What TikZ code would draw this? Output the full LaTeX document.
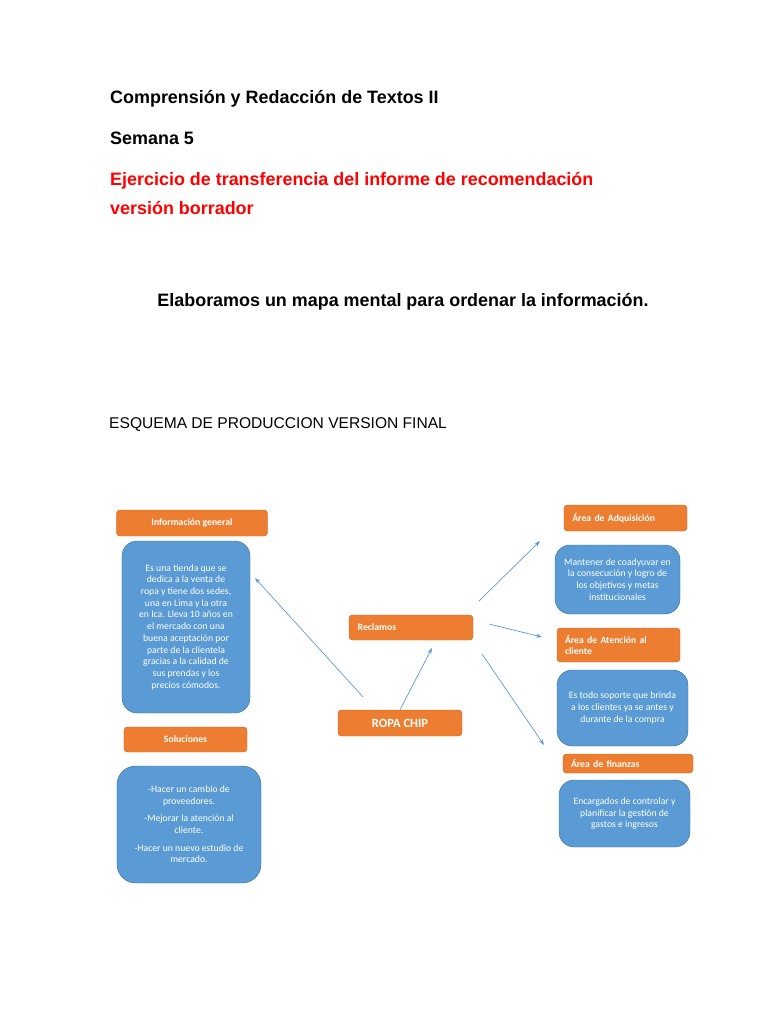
\documentclass[tikz,border=0pt]{standalone}
\usepackage{fontspec}
\setmainfont{Liberation Sans}
\newfontfamily\boxfont{Carlito}
\usepackage{tikz}
\usetikzlibrary{arrows.meta}
\definecolor{boxorange}{HTML}{ED7D31}
\definecolor{lineorange}{HTML}{C9651F}
\definecolor{boxblue}{HTML}{5B9BD5}
\definecolor{lineblue}{HTML}{41719C}
\definecolor{wordred}{HTML}{FF0000}
\tikzstyle{heading}=[anchor=base west, inner sep=0pt, font=\bfseries\fontsize{15.3}{18}\selectfont]
\tikzstyle{topic}=[draw=lineorange, fill=boxorange, rounded corners=3pt, text=white,
                   inner sep=0pt, font=\boxfont\bfseries\fontsize{8.3}{9.8}\selectfont]
\tikzstyle{topic-left}=[topic, align=left]
\tikzstyle{detail}=[draw=lineblue, fill=boxblue, rounded corners=13pt, text=white,
                    inner sep=0pt, align=center, font=\boxfont\fontsize{8.3}{10}\selectfont]
\tikzstyle{link}=[-{Stealth[length=5pt,width=3.5pt]}, draw=boxblue, line width=0.6pt]

\begin{document}
\begin{tikzpicture}[x=0.03cm,y=-0.03cm]
\useasboundingbox (0,0) rectangle (768,1024);
% header
\node[heading] (course) at (110,103) {Comprensión y Redacción de Textos II};
\node[heading] (week) at (110,144) {Semana 5};
\node[heading, text=wordred] (task) at (110,185) {Ejercicio de transferencia del informe de recomendación};
\node[heading, text=wordred] (draft) at (110,214) {versión borrador};
\node[heading, anchor=base] (intro) at (403,306) {Elaboramos un mapa mental para ordenar la información.};
\node[anchor=base west, inner sep=0pt, font=\fontsize{13.3}{15}\selectfont] (scheme) at (109,428) {ESQUEMA DE PRODUCCION VERSION FINAL};

% left side
\node[topic, minimum width=4.53cm, minimum height=0.78cm] (info) at (192,523) {Información general};
\node[detail, minimum width=3.84cm, minimum height=5.16cm] (infobox) at (186,627)
  {Es una tienda que se\\dedica a la venta de\\ropa y tiene dos sedes,\\una en Lima y la otra\\en Ica. Lleva 10 años en\\el mercado con una\\buena aceptación por\\parte de la clientela\\gracias a la calidad de\\sus prendas y los\\precios cómodos.};
\node[topic, minimum width=3.69cm, minimum height=0.75cm] (sol) at (185.5,739.5) {Soluciones};
\node[detail, rounded corners=16pt, minimum width=4.32cm, minimum height=3.51cm] (solbox) at (189,824.5)
  {-Hacer un cambio de\\proveedores.\\[5pt]-Mejorar la atención al\\cliente.\\[5pt]-Hacer un nuevo estudio de\\mercado.};

% centre
\node[topic-left, text width=3.2cm, minimum height=0.75cm, inner xsep=0.26cm] (recl) at (411,627.5) {Reclamos};
\node[topic, minimum width=3.72cm, minimum height=0.78cm, font=\boxfont\bfseries\fontsize{10.7}{12}\selectfont] (ropa) at (400,723) {ROPA CHIP};

% right side
\node[topic-left, text width=3.19cm, minimum height=0.78cm, inner xsep=0.25cm] (adq) at (625.5,518) {Área de Adquisición};
\node[detail, minimum width=3.75cm, minimum height=2.07cm] (adqbox) at (617.5,579.5)
  {Mantener de coadyuvar en\\la consecución y logro de\\los objetivos y metas\\institucionales};
\node[topic-left, text width=3.21cm, minimum height=1.02cm, inner xsep=0.24cm] (aten) at (618.5,645) {Área de Atención al\\cliente};
\node[detail, minimum width=3.93cm, minimum height=2.28cm] (atenbox) at (622.5,708)
  {Es todo soporte que brinda\\a los clientes ya se antes y\\durante de la compra};
\node[topic-left, text width=3.42cm, minimum height=0.57cm, inner xsep=0.24cm] (fin) at (628,763.5) {Área de finanzas};
\node[detail, minimum width=3.93cm, minimum height=2.01cm] (finbox) at (624.5,813.5)
  {Encargados de controlar y\\planificar la gestión de\\gastos e ingresos};

% connectors
\coordinate (ropa-out) at (363,697);
\coordinate (info-in) at (255,578);
\coordinate (recl-in) at (432,648);
\coordinate (recl-up) at (479,601);
\coordinate (recl-mid) at (489,624);
\coordinate (recl-down) at (482,654);
\coordinate (adq-in) at (540,541);
\coordinate (aten-in) at (542,637);
\coordinate (fin-in) at (544,745);
\draw[link] (ropa-out) -- (info-in);
\draw[link] (ropa.north) -- (recl-in);
\draw[link] (recl-up) -- (adq-in);
\draw[link] (recl-mid) -- (aten-in);
\draw[link] (recl-down) -- (fin-in);
\end{tikzpicture}
\end{document}
